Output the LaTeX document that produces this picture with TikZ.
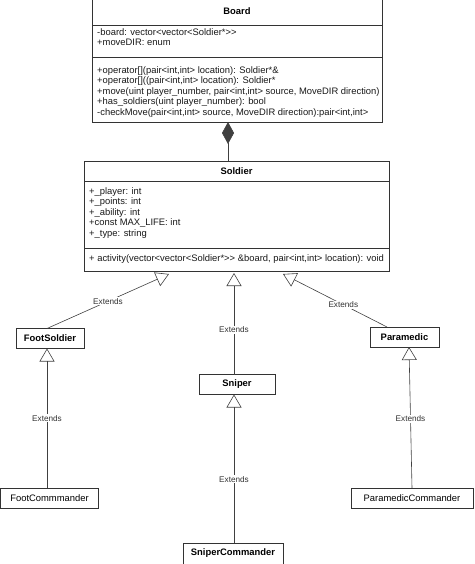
\documentclass[tikz,border=0pt]{standalone}
\usepackage{fontspec}
\setmainfont{Liberation Sans}
\usetikzlibrary{arrows.meta}

\begin{document}
\begin{tikzpicture}[x=1pt,y=-1pt,
  font=\fontsize{9.4}{10.6}\selectfont,
  box/.style={draw=black!80,semithick,fill=white,inner sep=0pt,outer sep=0pt},
  classname/.style={box,minimum height=20,font=\bfseries\fontsize{9.4}{10}\selectfont},
  member/.style={anchor=north west,align=left,inner sep=0pt,text=black!90},
  extends/.style={draw=black!75,semithick,-{Triangle[open,length=13pt,width=15pt]}},
  lbl/.style={fill=white,inner sep=1pt,text=black!80,font=\fontsize{8.2}{9}\selectfont}]
\useasboundingbox (0,0) rectangle (474,564);

\node[box,minimum width=290,minimum height=28,font=\bfseries\fontsize{9.4}{10}\selectfont] (board) at (237,11) {Board};
\node[box,minimum width=290,minimum height=32,anchor=north] (boardattr) at (board.south) {};
\node[box,minimum width=290,minimum height=65,anchor=north] (boardops) at (boardattr.south) {};
\node[member] (boardattrtext) at ([shift={(5,3)}]boardattr.north west) {-board: vector<vector<Soldier*>{}>\\+moveDIR: enum};
\node[member] (boardopstext) at ([shift={(5,9)}]boardops.north west) {+operator[](pair<int,int> location): Soldier*\&\\
+operator[]((pair<int,int> location): Soldier*\\
+move(uint player\_number, pair<int,int> source, MoveDIR direction)\\
+has\_soldiers(uint player\_number): bool\\
-checkMove(pair<int,int> source, MoveDIR direction):pair<int,int>};

\node[classname,minimum width=305] (soldier) at (236.5,171) {Soldier};
\node[box,minimum width=305,minimum height=67,anchor=north] (soldierattr) at (soldier.south) {};
\node[box,minimum width=305,minimum height=23,anchor=north] (soldierops) at (soldierattr.south) {};
\node[member] (soldierattrtext) at ([shift={(5,6)}]soldierattr.north west) {+\_player: int\\+\_points: int\\+\_ability: int\\+const MAX\_LIFE: int\\+\_type: string};
\node[member,anchor=west] (soldieropstext) at ([xshift=5]soldierops.west) {+ activity(vector<vector<Soldier*>{}> \&board, pair<int,int> location): void};

\node[classname,minimum width=68] (footsoldier) at (50,338.5) {FootSoldier};
\node[classname,minimum width=76] (sniper) at (237,384.5) {Sniper};
\node[classname,minimum width=69] (paramedic) at (404.5,337) {Paramedic};
\node[box,minimum height=20,minimum width=98] (footcommander) at (49.5,498) {FootCommmander};
\node[classname,minimum width=100,minimum height=21] (snipercommander) at (233,553.5) {SniperCommander};
\node[box,minimum height=20,minimum width=122] (mediccommander) at (412,498) {ParamedicCommander};

\coordinate (compo) at (228,0);
\draw[draw=black!75,semithick,-{Diamond[length=22pt,width=12pt]}] (soldier.north -| compo) -- (boardops.south -| compo);

\draw[extends] ([xshift=-3]footsoldier.north) -- node[lbl] {Extends} ([xshift=-67.5,yshift=-3]soldierops.south);
\draw[extends] ([xshift=-3]sniper.north) -- node[lbl,pos=0.44] {Extends} ([xshift=-2.5,yshift=-2]soldierops.south);
\draw[extends] ([xshift=-17.5]paramedic.north) -- node[lbl,pos=0.42] {Extends} ([xshift=46.5,yshift=-3]soldierops.south);

\draw[extends] ([xshift=-2.5]footcommander.north) -- node[lbl] {Extends} ([xshift=-3]footsoldier.south);
\draw[extends] ([xshift=1]snipercommander.north) -- node[lbl,pos=0.43] {Extends} ([xshift=-3]sniper.south);
\draw[extends] (mediccommander.north) -- node[lbl,pos=0.49] {Extends} ([xshift=4.5]paramedic.south);
\end{tikzpicture}
\end{document}
